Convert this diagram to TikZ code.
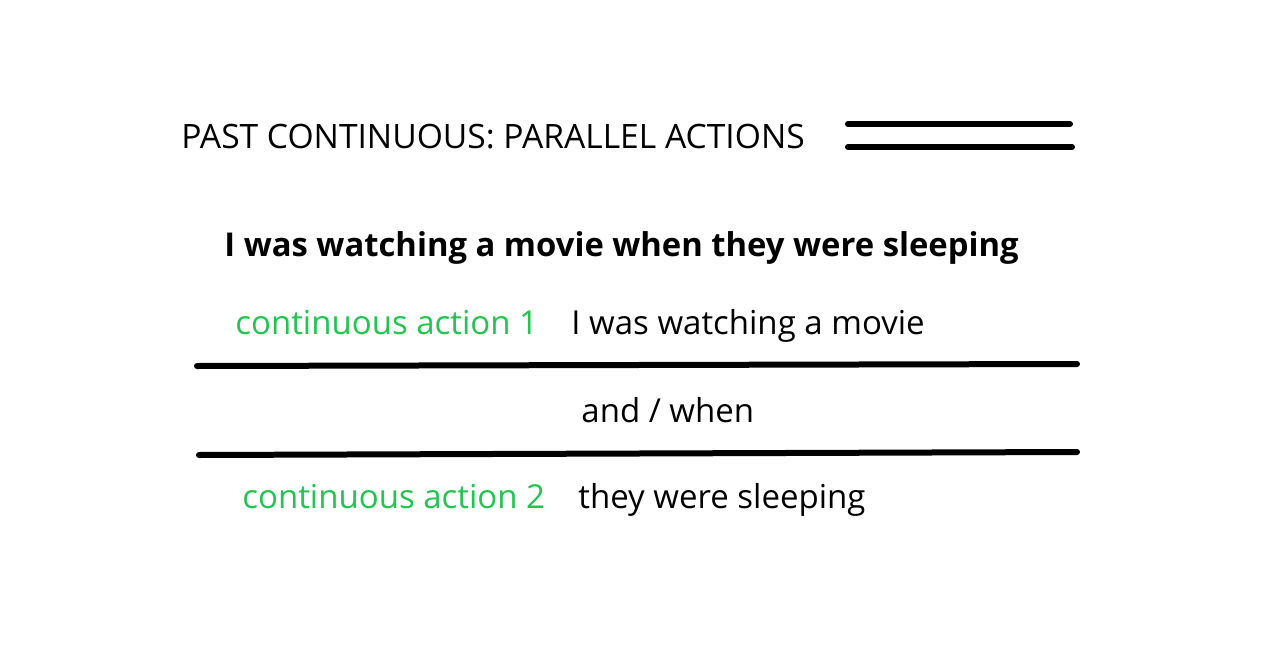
\documentclass[tikz,border=0pt]{standalone}
\usepackage{fontspec}
\setmainfont{Open Sans}
\usetikzlibrary{positioning}
\definecolor{actgreen}{RGB}{34,197,80}

\begin{document}
\begin{tikzpicture}[
            x=0.5pt, y=-0.5pt,
            txt/.style={inner sep=0pt, anchor=base west, font=\fontsize{16.5}{20}\selectfont},
            heading/.style={txt, font=\fontsize{16.8}{20}\selectfont},
            bold sentence/.style={txt, font=\fontsize{16.4}{20}\selectfont\bfseries},
            action/.style={txt, text=actgreen},
            rule/.style={line width=3pt, line cap=round},
        ]
            \useasboundingbox (0,0) rectangle (1280,653);
            % title and double bar
            \node[heading] (title) at (181,148) {PAST CONTINUOUS: PARALLEL ACTIONS};
            \coordinate (bar1a) at (848,124);
            \coordinate (bar1b) at (1070,124);
            \coordinate (bar2a) at (848,147);
            \coordinate (bar2b) at (1072,147);
            \draw[rule] (bar1a) -- (bar1b);
            \draw[rule] (bar2a) -- (bar2b);
            % example sentence
            \node[bold sentence] (sentence) at (224,256) {I was watching a movie when they were sleeping};
            % first action
            \node[action] (act1) at (235,334) {continuous action 1};
            \node[txt] (clause1) at (571,334) {I was watching a movie};
            \coordinate (line1a) at (197,366);
            \coordinate (line1b) at (1077,364);
            \draw[rule] (line1a) -- (line1b);
            % connector word
            \node[txt] (link) at (581,422) {and / when};
            \coordinate (line2a) at (199,455);
            \coordinate (line2b) at (1077,452);
            \draw[rule] (line2a) -- (line2b);
            % second action
            \node[action] (act2) at (242,508) {continuous action 2};
            \node[txt] (clause2) at (578,508) {they were sleeping};
        \end{tikzpicture}
\end{document}
